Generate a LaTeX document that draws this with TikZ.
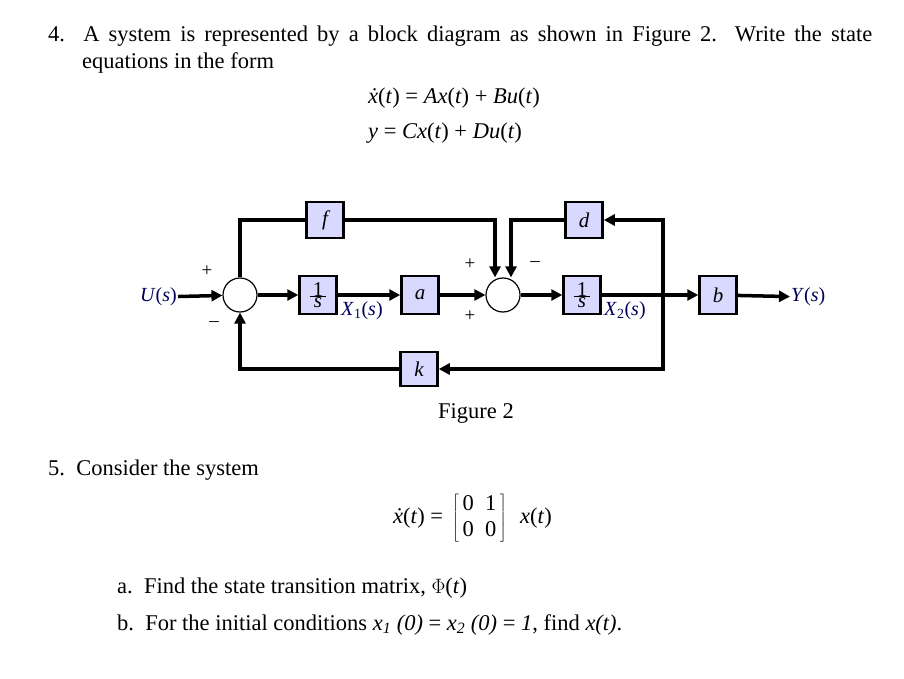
\documentclass[tikz,border=0pt]{standalone}
\usepackage{fontspec}
\setmainfont{Liberation Serif}
\usetikzlibrary{arrows.meta}
\newcommand{\iv}[1]{\textit{#1}}
\newcommand{\fr}{\shortstack{\upshape 1\\[-3pt]\rule{16pt}{0.7pt}\\[-2pt]\itshape s}}
\begin{document}
\begin{tikzpicture}[x=1pt,y=-1pt,
  txt/.style={anchor=west,inner sep=0pt,font=\fontsize{22.5}{26}\selectfont},
  blk/.style={draw,line width=2.5pt,fill=blue!15!white,minimum width=37pt,minimum height=38pt,inner sep=0pt,font=\fontsize{21}{23}\selectfont\itshape},
  sum/.style={draw,circle,line width=1.2pt,minimum size=34pt,inner sep=0pt},
  sig/.style={line width=3.5pt,-{Triangle[length=11pt,width=11pt]}},
  ln/.style={line width=3.5pt},
  lab/.style={font=\fontsize{20}{22}\selectfont,text=blue!35!black,inner sep=1pt},
  sg/.style={font=\fontsize{19}{20}\selectfont,inner sep=0pt}]
\useasboundingbox (0,0) rectangle (904,679);
% text
\node[txt] (t1) at (48,36) {\hbox to 824pt{4.\ \ A system is represented by a block diagram as shown in Figure 2. Write the state}};
\node[txt] (t2) at (82,63) {equations in the form};
\node[txt] (e1) at (368,98) {\iv{\.x}(\iv{t}) = \iv{Ax}(\iv{t}) + \iv{Bu}(\iv{t})};
\node[txt] (e2) at (368,133) {\iv{y} = \iv{Cx}(\iv{t}) + \iv{Du}(\iv{t})};
\node[txt] (fig) at (438,413) {Figure 2};
\node[txt] (t5) at (48,470) {5.\ \ Consider the system};
\node[txt] (e3) at (393,518) {\iv{\.x}(\iv{t}) =};
\node[txt] (e3m) at (452,518) {$\left[\vcenter{\hbox{\begin{tabular}{@{\,}c@{\ \ }c@{\,}}0&1\\0&0\end{tabular}}}\right]$};
\node[txt] (e3r) at (520,518) {\iv{x}(\iv{t})};
\node[txt] (ta) at (117,588) {a.\ \ Find the state transition matrix, $\Phi$(\iv{t})};
\node[txt] (tb) at (117,625) {b.\ \ For the initial conditions \iv{x}\textsubscript{\iv{1}}\iv{ (0)} = \iv{x}\textsubscript{\iv{2}}\iv{ (0)} = \iv{1}, find \iv{x(t)}.};
% diagram
\node[lab,anchor=east] (U) at (178,297) {\iv{U}(\iv{s})};
\node[sum] (s1) at (240,295) {};
\node[blk] (i1) at (318,295) {\fr};
\node[blk] (a) at (420,295) {a};
\node[sum] (s2) at (503,295) {};
\node[blk] (i2) at (582,295) {\fr};
\node[blk] (b) at (718,295) {b};
\node[lab,anchor=west] (Y) at (790,297) {\iv{Y}(\iv{s})};
\node[blk,minimum height=36pt] (f) at (325,220) {f};
\node[blk,minimum height=36pt] (d) at (584,220) {d};
\node[blk,minimum height=34pt] (k) at (419,369) {k};
\node[lab,anchor=north west] (x1) at (340,300) {\iv{X}\textsubscript{1}(\iv{s})};
\node[lab,anchor=north west] (x2) at (603,300) {\iv{X}\textsubscript{2}(\iv{s})};
\coordinate (br) at (663,295);
\draw[sig] (U) -- (s1);
\draw[sig] (s1) -- (i1);
\draw[sig] (i1) -- (a);
\draw[sig] (a) -- (s2);
\draw[sig] (s2) -- (i2);
\draw[sig] (i2) -- (b);
\draw[sig] (b) -- (Y);
\draw[ln] (s1.north) |- (f.west);
\draw[sig] (f.east) -| ([xshift=-8pt]s2.north);
\draw[sig] (d.west) -| ([xshift=8pt]s2.north);
\draw[sig] (br) |- (d.east);
\draw[sig] (br) |- (k.east);
\draw[sig] (k.west) -| (s1.south);
\fill (br) circle (2pt);
\node[sg] (p1) at (207,271) {+};
\node[sg] (m1) at (214,324) {--};
\node[sg] (p2) at (470,264) {+};
\node[sg] (m2) at (535,264) {--};
\node[sg] (p3) at (470,316) {+};
\end{tikzpicture}
\end{document}
